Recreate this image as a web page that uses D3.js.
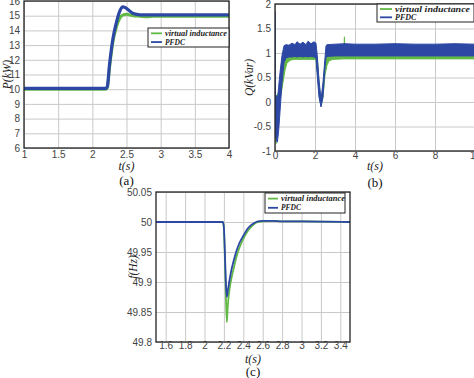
<!DOCTYPE html>
<html>
<head>
<meta charset="utf-8">
<script src="https://cdn.jsdelivr.net/npm/d3@7"></script>
<style>
  body { margin: 0; background: #fff; }
  text { font-family: "Liberation Sans", Arial, sans-serif; }
  .serif { font-family: "Liberation Serif", "DejaVu Serif", serif; }
</style>
</head>
<body>
<div id="viz"></div>
<script>
// ---- panel (a): active power ----
const pTime    = [1, 2.2, 2.22, 2.25, 2.3, 2.35, 2.4, 2.45, 2.5, 2.55, 2.6, 2.7, 2.8, 2.9, 3, 3.5, 4]
const pVirtual = [10, 10, 10.1, 11.4, 13.2, 14.2, 14.8, 15.05, 15.1, 15.05, 15.0, 14.97, 14.93, 14.96, 14.96, 14.96, 14.96]
const pPFDC    = [10.05, 10.05, 10.2, 11.6, 13.4, 14.5, 15.3, 15.6, 15.5, 15.3, 15.15, 15.06, 15.05, 15.05, 15.05, 15.05, 15.05]
const pXTicks  = [1, 1.5, 2, 2.5, 3, 3.5, 4]
const pYTicks  = [6, 7, 8, 9, 10, 11, 12, 13, 14, 15, 16]

// ---- panel (b): reactive power, noisy bands given as envelopes ----
const qPFDCTime = [0, 0.01, 0.03, 0.08, 0.12, 0.18, 0.25, 0.35, 0.45, 0.55, 0.7, 0.85, 1.0, 1.1, 1.25, 1.4, 1.55, 1.65, 1.8, 1.95, 2.05, 2.1, 2.2, 2.3, 2.4, 2.5, 2.55, 2.6, 3, 3.5, 4, 5, 6, 7, 8, 9, 10]
const qPFDCHigh = [1.85, 0.3, 0.15, 0.1, 0.05, 0.3, 0.6, 0.95, 1.15, 1.17, 1.16, 1.2, 1.17, 1.23, 1.18, 1.22, 1.17, 1.24, 1.19, 1.23, 1.2, 1.0, 0.45, 0.05, 0.4, 0.9, 1.15, 1.17, 1.18, 1.19, 1.18, 1.18, 1.19, 1.18, 1.18, 1.19, 1.18]
const qPFDCLow  = [0, -0.5, -0.7, -0.8, -0.82, -0.6, -0.2, 0.4, 0.8, 0.9, 0.92, 0.92, 0.93, 0.92, 0.93, 0.92, 0.93, 0.92, 0.93, 0.92, 0.9, 0.6, 0.1, -0.1, 0.1, 0.7, 0.9, 0.93, 0.94, 0.94, 0.94, 0.94, 0.94, 0.94, 0.94, 0.94, 0.94]

const qVirtualTime = [0, 0.02, 0.05, 0.1, 0.15, 0.2, 0.3, 0.4, 0.5, 0.6, 0.8, 1.0, 2.05, 2.12, 2.2, 2.3, 2.4, 2.5, 2.6, 2.7, 2.9, 3.44, 3.47, 3.5, 10]
const qVirtualLow  = [0, -0.6, -0.85, -0.5, -0.1, 0.05, 0.15, 0.4, 0.65, 0.8, 0.86, 0.87, 0.87, 0.6, 0.15, -0.08, 0.1, 0.55, 0.75, 0.84, 0.87, 0.88, 0.88, 0.88, 0.88]
const qVirtualHigh = [0.3, 0.1, 0.12, 0.14, 0.16, 0.2, 0.35, 0.65, 0.85, 0.95, 1.0, 1.0, 1.0, 0.9, 0.4, 0.0, 0.3, 0.8, 0.95, 1.0, 1.0, 1.0, 1.33, 1.0, 1.0]
const qXTicks = [0, 2, 4, 6, 8, 10]
const qYTicks = [-1, -0.5, 0, 0.5, 1, 1.5, 2]

// ---- panel (c): frequency ----
const fTime    = [1.5, 2.19, 2.2, 2.21, 2.22, 2.23, 2.24, 2.26, 2.28, 2.3, 2.33, 2.36, 2.4, 2.45, 2.5, 2.55, 2.6, 2.7, 2.8, 3, 3.5]
const fPFDC    = [50, 50, 49.99, 49.95, 49.9, 49.875, 49.885, 49.905, 49.922, 49.935, 49.952, 49.965, 49.977, 49.99, 49.997, 50.001, 50.002, 50.002, 50.001, 50.001, 50.0]
const fVirtual = [50, 50, 49.99, 49.94, 49.88, 49.833, 49.86, 49.89, 49.908, 49.922, 49.942, 49.957, 49.972, 49.986, 49.995, 50.0, 50.001, 50.002, 50.001, 50.001, 50.0]
const fXTicks  = [1.6, 1.8, 2, 2.2, 2.4, 2.6, 2.8, 3, 3.2, 3.4]
const fYTicks  = [49.8, 49.85, 49.9, 49.95, 50, 50.05]

const seriesNames = ["virtual inductance", "PFDC"]
const green = "#62b946"
const blue = "#2c48a4"

const svg = d3.select("#viz").append("svg")
    .attr("width", 474)
    .attr("height", 378)

function panel (opt) {
    const x = d3.scaleLinear().domain(opt.xDomain).range([opt.left, opt.right])
    const y = d3.scaleLinear().domain(opt.yDomain).range([opt.bottom, opt.top])
    const g = svg.append("g")

    // grid + tick labels
    const xAxis = d3.axisBottom(x).tickValues(opt.xTicks).tickFormat(d => d)
        .tickSizeInner(-(opt.bottom - opt.top)).tickSizeOuter(0)
    const yAxis = d3.axisLeft(y).tickValues(opt.yTicks).tickFormat(d => d)
        .tickSizeInner(-(opt.right - opt.left)).tickSizeOuter(0)
    const gx = g.append("g").attr("transform", `translate(0,${opt.bottom})`).call(xAxis)
    const gy = g.append("g").attr("transform", `translate(${opt.left},0)`).call(yAxis)
    for (const a of [gx, gy]) {
        a.select(".domain").remove()
        a.selectAll("line").attr("stroke", "#c9c9c9").attr("stroke-width", 1)
        a.selectAll("text").attr("fill", "#444").style("font-size", "10px")
    }
    // grid lines point inwards, so put the labels back outside the frame
    gx.selectAll("text").attr("y", opt.xPad)
    gy.selectAll("text").attr("x", -4)

    const clipId = "clip" + opt.name
    svg.append("clipPath").attr("id", clipId).append("rect")
        .attr("x", opt.left).attr("y", opt.top)
        .attr("width", opt.right - opt.left).attr("height", opt.bottom - opt.top)
    const data = g.append("g").attr("clip-path", `url(#${clipId})`)
    opt.draw(data, x, y)

    // frame
    g.append("rect")
        .attr("x", opt.left).attr("y", opt.top)
        .attr("width", opt.right - opt.left).attr("height", opt.bottom - opt.top)
        .attr("fill", "none").attr("stroke", "#222").attr("stroke-width", 1.3)

    // axis titles
    const cx = (opt.left + opt.right) / 2
    g.append("text").attr("class", "serif")
        .attr("x", cx).attr("y", opt.bottom + opt.titleDy)
        .attr("text-anchor", "middle").style("font-size", "12px").style("font-style", "italic")
        .attr("fill", "#222").text("t(s)")
    g.append("text").attr("class", "serif")
        .attr("transform", `translate(${opt.yLabelX},${(opt.top + opt.bottom) / 2}) rotate(-90)`)
        .attr("text-anchor", "middle").style("font-size", "11.5px").style("font-style", "italic")
        .attr("fill", "#222").text(opt.yLabel)
    g.append("text").attr("class", "serif")
        .attr("x", cx).attr("y", opt.bottom + opt.captionDy)
        .attr("text-anchor", "middle").style("font-size", "13px")
        .attr("fill", "#111").text(opt.caption)

    // legend
    const L = opt.legend
    const lg = g.append("g")
    lg.append("rect").attr("x", L.x).attr("y", L.y).attr("width", L.w).attr("height", L.h)
        .attr("fill", "#fff").attr("stroke", "#222").attr("stroke-width", 1)
    seriesNames.forEach((name, i) => {
        const yy = L.y + L.h * (i === 0 ? 0.28 : 0.74)
        lg.append("line").attr("x1", L.x + 3).attr("x2", L.x + 3 + L.line).attr("y1", yy).attr("y2", yy)
            .attr("stroke", i === 0 ? green : blue).attr("stroke-width", 1.8)
        const t = lg.append("text").attr("class", "serif")
            .attr("x", L.x + 6 + L.line).attr("y", yy + 2.5)
            .style("font-size", L.font + "px").style("font-style", "italic").style("font-weight", "bold")
            .attr("fill", "#222").text(name)
        if (i === 0) t.attr("textLength", L.textW).attr("lengthAdjust", "spacingAndGlyphs")
    })
}

// (a)
panel({
    name: "a", left: 24, right: 229, top: 1, bottom: 148,
    xDomain: [1, 4], yDomain: [6, 16], xTicks: pXTicks, yTicks: pYTicks, xPad: 3,
    yLabel: "P(kW)", yLabelX: 11, caption: "(a)", titleDy: 22, captionDy: 37,
    legend: { x: 148, y: 28, w: 81, h: 19, line: 11, font: 7.5, textW: 62 },
    draw: (g, x, y) => {
        const line = d3.line().x((d, i) => x(pTime[i])).y(d => y(d)).curve(d3.curveMonotoneX)
        g.append("path").attr("d", line(pVirtual)).attr("fill", "none").attr("stroke", green).attr("stroke-width", 3)
        g.append("path").attr("d", line(pPFDC)).attr("fill", "none").attr("stroke", blue).attr("stroke-width", 3.2)
    }
})

// (b)
panel({
    name: "b", left: 275, right: 475, top: 4, bottom: 151,
    xDomain: [0, 10], yDomain: [-1, 2], xTicks: qXTicks, yTicks: qYTicks, xPad: 1,
    yLabel: "Q(kVar)", yLabelX: 253, caption: "(b)", titleDy: 19, captionDy: 36,
    legend: { x: 377, y: 4, w: 97, h: 18, line: 12, font: 8, textW: 75 },
    draw: (g, x, y) => {
        const areaV = d3.area().x((d, i) => x(qVirtualTime[i])).y0((d, i) => y(qVirtualLow[i])).y1(d => y(d))
        const areaP = d3.area().x((d, i) => x(qPFDCTime[i])).y0((d, i) => y(qPFDCLow[i])).y1(d => y(d))
        g.append("path").attr("d", areaV(qVirtualHigh)).attr("fill", green).attr("stroke", green).attr("stroke-width", 1)
        g.append("path").attr("d", areaP(qPFDCHigh)).attr("fill", blue).attr("stroke", blue).attr("stroke-width", 1)
    }
})

// (c)
panel({
    name: "c", left: 156, right: 350, top: 192, bottom: 342,
    xDomain: [1.5, 3.5], yDomain: [49.8, 50.05], xTicks: fXTicks, yTicks: fYTicks, xPad: 0,
    yLabel: "f(Hz)", yLabelX: 137, caption: "(c)", titleDy: 20.5, captionDy: 34,
    legend: { x: 265, y: 193, w: 80, h: 20, line: 10, font: 7.5, textW: 64 },
    draw: (g, x, y) => {
        const line = d3.line().x((d, i) => x(fTime[i])).y(d => y(d)).curve(d3.curveMonotoneX)
        g.append("path").attr("d", line(fVirtual)).attr("fill", "none").attr("stroke", green).attr("stroke-width", 1.8)
        g.append("path").attr("d", line(fPFDC)).attr("fill", "none").attr("stroke", blue).attr("stroke-width", 1.8)
    }
})
</script>
</body>
</html>
